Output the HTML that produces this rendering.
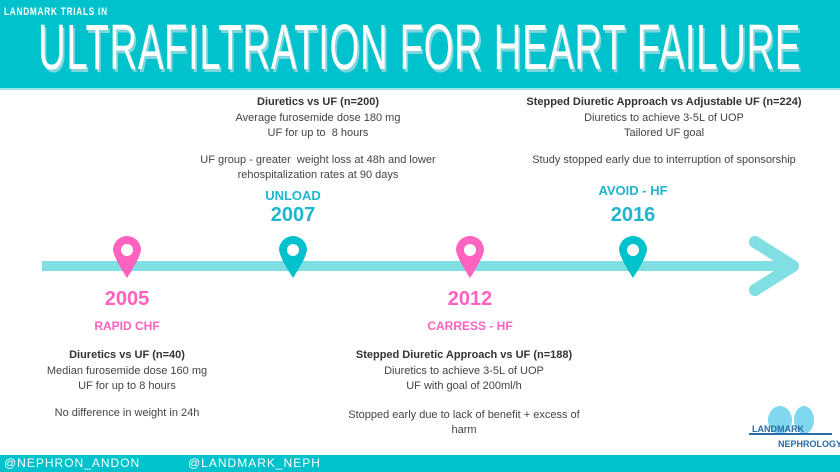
<!DOCTYPE html>
<html><head><meta charset="utf-8"><style>
*{margin:0;padding:0;box-sizing:border-box}
body{width:840px;height:472px;position:relative;overflow:hidden;background:#fff;font-family:"Liberation Sans",sans-serif}
.hdr{position:absolute;left:0;top:0;width:840px;height:88px;background:#00c2cc}
.hdr2{position:absolute;left:0;top:88px;width:840px;height:2px;background:#9fe6ea}
.small{position:absolute;left:4px;top:6px;color:#fff;font-weight:bold;font-size:11px;letter-spacing:1px;transform:scaleX(.75);transform-origin:left}
.title{position:absolute;left:38px;top:10px;color:#fff;font-size:64px;white-space:nowrap;transform:scaleX(.6);transform-origin:left;text-shadow:3px 3px 0 #7fd6dc;letter-spacing:1px}
.blk{position:absolute;width:400px;text-align:center;font-size:11px;line-height:15.5px;color:#444}
.blk b{color:#333}
.lab{position:absolute;width:200px;text-align:center;font-weight:bold}
.foot{position:absolute;left:0;top:455px;width:840px;height:17px;background:#00c2cc;color:#fff;font-size:12px;letter-spacing:1px;line-height:17px}
</style></head><body>
<div class="hdr"></div><div class="hdr2"></div>
<div class="small">LANDMARK TRIALS IN</div>
<div class="title">ULTRAFILTRATION FOR HEART FAILURE</div>

<svg style="position:absolute;left:0;top:0" width="840" height="472">
<line x1="42" y1="266" x2="790" y2="266" stroke="#7fdfe3" stroke-width="10"/>
<polyline points="755,242 793,266 755,290" fill="none" stroke="#7fdfe3" stroke-width="12" stroke-linecap="round" stroke-linejoin="round"/>
<g fill="#ff62bf"><path d="M113,250 A14,14 0 1 1 141,250 Q140,258 127,278 Q114,258 113,250Z"/><circle cx="127" cy="250" r="6" fill="#fff"/></g>
<g fill="#00c2cc"><path d="M279,250 A14,14 0 1 1 307,250 Q306,258 293,278 Q280,258 279,250Z"/><circle cx="293" cy="250" r="6" fill="#fff"/></g>
<g fill="#ff62bf"><path d="M456,250 A14,14 0 1 1 484,250 Q483,258 470,278 Q457,258 456,250Z"/><circle cx="470" cy="250" r="6" fill="#fff"/></g>
<g fill="#00c2cc"><path d="M619,250 A14,14 0 1 1 647,250 Q646,258 633,278 Q620,258 619,250Z"/><circle cx="633" cy="250" r="6" fill="#fff"/></g>
<g>
<ellipse cx="780" cy="420" rx="12" ry="14" fill="#7fd8ef"/><ellipse cx="804" cy="420" rx="10" ry="14" fill="#7fd8ef"/>
<line x1="749" y1="434" x2="832" y2="434" stroke="#2a6aa8" stroke-width="2"/>
<text x="752" y="432" font-size="9" font-weight="bold" fill="#2a6aa8" font-family="Liberation Sans">LANDMARK</text>
<text x="778" y="447" font-size="9" font-weight="bold" fill="#2a6aa8" font-family="Liberation Sans">NEPHROLOGY</text>
</g>
</svg>

<div class="blk" style="left:118px;top:95px"><b>Diuretics vs UF (n=200)</b><br>Average furosemide dose 180 mg<br>UF for up to &nbsp;8 hours<br><div style="height:11px"></div>UF group - greater &nbsp;weight loss at 48h and lower<br>rehospitalization rates at 90 days</div>
<div class="blk" style="left:464px;top:95px"><b>Stepped Diuretic Approach vs Adjustable UF (n=224)</b><br>Diuretics to achieve 3-5L of UOP<br>Tailored UF goal<br><div style="height:11px"></div>Study stopped early due to interruption of sponsorship</div>
<div class="blk" style="left:-73px;top:348px"><b>Diuretics vs UF (n=40)</b><br>Median furosemide dose 160 mg<br>UF for up to 8 hours<br><div style="height:11px"></div>No difference in weight in 24h</div>
<div class="blk" style="left:264px;top:348px"><b>Stepped Diuretic Approach vs UF (n=188)</b><br>Diuretics to achieve 3-5L of UOP<br>UF with goal of 200ml/h<br><div style="height:13px"></div>Stopped early due to lack of benefit + excess of<br>harm</div>

<div class="lab" style="left:193px;top:188px;color:#1fb5cf;font-size:13px">UNLOAD</div>
<div class="lab" style="left:193px;top:204px;color:#1fb5cf;font-size:20px">2007</div>
<div class="lab" style="left:533px;top:183px;color:#1fb5cf;font-size:13px">AVOID - HF</div>
<div class="lab" style="left:533px;top:204px;color:#1fb5cf;font-size:20px">2016</div>
<div class="lab" style="left:27px;top:288px;color:#ff62bf;font-size:20px">2005</div>
<div class="lab" style="left:27px;top:319px;color:#ff62bf;font-size:12px">RAPID CHF</div>
<div class="lab" style="left:370px;top:288px;color:#ff62bf;font-size:20px">2012</div>
<div class="lab" style="left:370px;top:319px;color:#ff62bf;font-size:12px">CARRESS - HF</div>

<div class="foot"><span style="position:absolute;left:4px">@NEPHRON_ANDON</span><span style="position:absolute;left:188px">@LANDMARK_NEPH</span></div>
</body></html>
